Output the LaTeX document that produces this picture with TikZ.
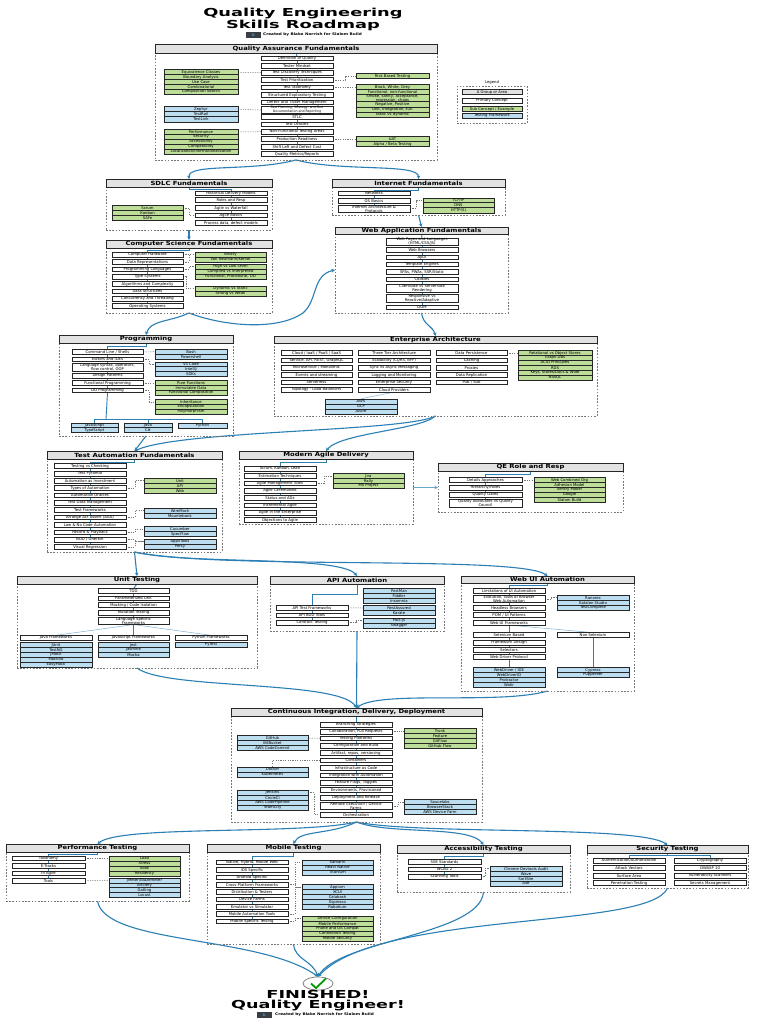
\documentclass[tikz,border=0pt]{standalone}
\usepackage{fontspec}
\setmainfont{DejaVu Sans}
\usetikzlibrary{arrows.meta,shapes.geometric}
\pgfdeclarelayer{bg}
\pgfsetlayers{bg,main}
\definecolor{cgreen}{HTML}{BCDE99}
\definecolor{cblue}{HTML}{BDDDF1}
\definecolor{cgray}{HTML}{E2E2E2}
\definecolor{cflow}{HTML}{2A7FB5}
\definecolor{clink}{HTML}{777777}
\tikzset{
 cellbase/.style={draw=black!85,line width=.5pt,inner sep=.1pt,minimum height=4.8pt,align=center,outer sep=0pt,font=\fontsize{3.8}{4}\selectfont},
 item/.style={cellbase,fill=white},
 gitem/.style={cellbase,fill=cgreen,minimum height=5.1pt},
 bitem/.style={cellbase,fill=cblue,minimum height=5.1pt},
 hdr/.style={cellbase,fill=cgray,font=\bfseries\fontsize{5.7}{6}\selectfont},
 panelbox/.style={draw=clink,line width=.6pt,dash pattern=on 1.6pt off 1.6pt,inner sep=0pt,outer sep=0pt},
 flow/.style={draw=cflow,line width=1.1pt,-{Stealth[length=3.5pt,width=3.5pt]}},
 wire/.style={draw=cflow,line width=.9pt},
 lightwire/.style={draw=cflow!60,line width=.5pt},
 link/.style={draw=clink,line width=.5pt,dash pattern=on 1.2pt off 1.2pt},
 badge/.style={fill=black!85!cyan,text=cyan!70!white,inner sep=0pt,minimum width=15pt,minimum height=6pt,font=\fontsize{4}{4}\selectfont},
 credit/.style={inner sep=0pt,anchor=west,font=\bfseries\fontsize{3.5}{4}\selectfont},
 bigtext/.style={inner sep=0pt,font=\bfseries\fontsize{11}{11}\selectfont},
 plain/.style={inner sep=0pt,font=\fontsize{3.8}{4}\selectfont},
}
\newcommand\stack[5]{\foreach \yy/\tx [count=\nn] in {#5}{\node[#1,minimum width={(#4-#3)*1pt}] (#2\nn) at ({(#3+#4)/2},\yy) {\tx};}}
% name, x1, x2, y1, y2, ybottom, title
\newcommand\panel[7]{\node[panelbox,minimum width={(#3-#2)*1pt},minimum height={(#6-#4)*1pt}] (#1) at ({(#2+#3)/2},{(#4+#6)/2}) {};
 \node[hdr,minimum width={(#3-#2)*1pt},minimum height={(#5-#4)*1pt}] (#1h) at ({(#2+#3)/2},{(#4+#5)/2}) {\scalebox{1.2}[1]{#7}};}
\newcommand\chain[2]{\foreach \a [evaluate=\a as \b using int(\a+1)] in {1,...,#2}{\draw[wire] (#1\a)--(#1\b);}}
\begin{document}
\begin{tikzpicture}[x=1pt,y=-1pt]
\useasboundingbox (0,0) rectangle (768,1024);
% title
\node[bigtext] (ttl1) at (303,14) {\scalebox{1.62}[1]{Quality Engineering}};
\node[bigtext] (ttl2) at (303,25) {\scalebox{1.62}[1]{Skills Roadmap}};
\node[badge] (bdg1) at (253.5,35) {b};
\node[credit] (crd1) at (263,35) {\scalebox{1.2}[1]{Created by Blake Norrish for Slalom Build}};

% legend
\node[plain] (lt) at (492,82) {Legend};
\node[panelbox,minimum width=70pt,minimum height=37pt] (lg) at (492,105) {};
\stack{hdr,font=\fontsize{3.8}{4}\selectfont}{la}{462}{522}{92/{A Group or Area}}
\stack{item}{lb}{462}{522}{100.7/{Primary Concept}}
\stack{gitem}{lc}{462}{522}{109/{Sub Concept / Example}}
\stack{bitem}{ld}{462}{522}{115.7/{Testing Framework}}

% QA
\panel{qa}{155}{437}{44}{53}{160}{Quality Assurance Fundamentals}
\stack{item}{q}{261}{333}{58.3/{Definition of Quality},65.7/{Tester Mindset},72.7/{Test Discovery Techniques},80/{Test Prioritization},87.3/{Test Taxonomy},95/{Structured Exploratory Testing},102.3/{Defect and Ticket Management},110/{\fontsize{3.2}{3}\selectfont Test Planning, Strategy, and Test\\\fontsize{3.2}{3}\selectfont Documentation and Reporting},117/{STLC},124.3/{Test Oracles},131.7/{Non-Functional Testing Areas},139/{Production Readiness},146.7/{Shift Left and Defect Cost},154/{Quality Metrics/Reports}}
\stack{gitem}{qg}{164}{238}{72.3/{Equivalence Classes},77/{Boundary Analysis},82/{Use Case},86.7/{Combinatorial},91.7/{Composition Search}}
\stack{bitem}{qb}{164}{238}{109.3/{Zephyr},114.3/{TestRail},119.3/{TestLink}}
\stack{gitem}{qn}{164}{238}{132/{Performance},136.7/{Security},141.7/{Accessibility},146.7/{Compatibility},151.7/{Localization/Internationalization}}
\stack{gitem}{qr}{356}{429}{76/{Risk Based Testing}}
\stack{gitem}{qt}{356}{429}{87.3/{Black, White, Grey},92.3/{Functional, non-functional},98.3/{Smoke, sanity, acceptance,\\regression, chaos},104.3/{Negative, Positive},109.7/{Unit, Integration, E2E},114.7/{static vs dynamic}}
\stack{gitem}{qu}{356}{429}{139/{UAT},144/{Alpha / Beta Testing}}

% SDLC
\panel{sd}{106}{272}{179}{187}{230}{SDLC Fundamentals}
\stack{item}{s}{195}{267}{193.3/{Historical Delivery Models},200/{Roles and Resp},208/{Agile vs Waterfall},215.3/{Agile Basics},223/{Process data, defect models}}
\stack{gitem}{sg}{112}{183}{208/{Scrum},213/{Kanban},217.7/{SAFe}}

% Internet
\panel{in}{332}{505}{179}{187}{215}{Internet Fundamentals}
\stack{item}{n}{338}{410}{193.3/{Networks},200.7/{OS Basics},208.7/{Internet Architecture \&\\Protocols}}
\stack{gitem}{ng}{423}{494}{200.7/{TCP/IP},205.3/{DNS},210.3/{HTTP(S)}}

% CS
\panel{cs}{106}{272}{240}{248}{313}{Computer Science Fundamentals}
\stack{item}{c}{112}{183}{254.7/{Computer Hardware},262/{Data Representations},269.3/{Programming Languages},276.7/{Type Systems},284/{Algorithms and Complexity},291.3/{Data Structures},298.7/{Concurrency and Threading},306/{Operating Systems}}
\stack{gitem}{ca}{195}{266}{254.7/{Binary},259.3/{Von Neumann/Kernel}}
\stack{gitem}{cb}{195}{266}{266.7/{High vs Low Level},271.7/{Compiled vs Interpreted},276.7/{Functional, Procedural, OO}}
\stack{gitem}{cd}{195}{266}{288.7/{Dynamic vs Static},293.3/{Strong vs Weak}}

% Web app
\panel{wa}{335}{508}{227}{234}{313}{Web Application Fundamentals}
\stack{item}{a}{386}{458}{241.7/{Web Pages and Languages\\(HTML/CSS/JS)},250/{Web Browsers},257.3/{AJAX},264.3/{Template Engines},272/{SPAs, PWAs, SSR/Static},279.3/{Cookies},288.3/{Clientside vs Serverside\\Rendering},298.3/{Responsive vs\\Reactive/Adaptive},307.3/{DOM}}

% Programming
\panel{pr}{59}{233}{335}{343}{436}{Programming}
\stack{item}{p}{72}{143}{352/{Command Line / Shells},359.3/{Editors and IDEs},367.3/{Language syntax, operators,\\flow control, OOP},375.7/{Design Patterns},383/{Functional Programming},390.3/{OO Programming}}
\stack{bitem}{pa}{155}{227}{351.7/{Bash},356.7/{Powershell}}
\stack{bitem}{pb}{155}{227}{364.3/{VS Code},369/{IntelliJ},373.7/{SDKs}}
\stack{gitem}{pc}{155}{227}{383/{Pure Functions},387.7/{Immutable Data},392.7/{Functional Composition}}
\stack{gitem}{pd}{155}{227}{402/{Inheritance},406.7/{Encapsulation},411.7/{Polymorphism}}
\stack{bitem}{pj}{71}{118}{425.3/{JavaScript},430/{TypeScript}}
\stack{bitem}{pk}{124}{172}{425.3/{Java},430/{C\#}}
\stack{bitem}{pl}{178}{227}{425.7/{Python}}

% Enterprise
\panel{en}{274}{597}{336}{343}{416}{Enterprise Architecture}
\stack{item}{ex}{281}{352}{353/{Cloud / IaaS / PaaS / SaaS},360.3/{Service, API, REST, GraphQL},367.7/{Microservice / Monolithic},375/{Events and streaming},382.3/{Serverless},389.7/{Topology - Load Balancers}}
\stack{item}{ey}{358}{430}{353/{Three Tier Architecture},360.3/{Scalability (CQRS, BFF)},367.7/{Sync vs Async Messaging},375/{Logging and Monitoring},382.3/{Enterprise Security},389.7/{Cloud Providers}}
\stack{item}{ez}{436}{507}{353/{Data Persistence},360.3/{Caching},367.7/{Proxies},375/{Data Replication},382.3/{Pub / Sub}}
\stack{gitem}{eg}{518}{592}{353/{Relational vs Object Stores},357.7/{Graph DBs},362.7/{ACID Principles},367.7/{RDS},372.7/{Keys, Stores/Docs \& Wide},377.7/{NoSQL}}
\stack{bitem}{eb}{325}{397}{401.3/{AWS},406.3/{GCP},411.3/{Azure}}

% Test automation
\panel{ta}{47}{222}{451}{459}{552}{Test Automation Fundamentals}
\stack{item}{t}{54}{126}{466/{Testing vs Checking},473.7/{Test Pyramid},480.7/{Automation as Investment},488/{Types of Automation},495.3/{Automation Oracles},502.7/{Test Data Management},510/{Test Frameworks},517.3/{Arrange Act Assert (AAA)},525/{Low \& No Code Automation},532.3/{Record \& Playback},539.7/{BDD / Gherkin},547/{Visual Regression}}
\stack{gitem}{tg}{144}{216}{480.7/{Unit},485.7/{API},490.7/{Web}}
\stack{bitem}{tb}{144}{216}{510.7/{WireMock},515.7/{Mountebank}}
\stack{bitem}{tc}{144}{216}{529/{Cucumber},534/{SpecFlow}}
\stack{bitem}{td}{144}{216}{541.7/{AppliTools},546.7/{Percy}}

% Agile
\panel{ag}{239}{413}{451}{459}{524}{Modern Agile Delivery}
\stack{item}{m}{244}{316}{468.7/{Scrum, Kanban, Lean},476/{Estimation Techniques},483.3/{Agile Management Tools},490.7/{Agile Ceremonies},498/{Status and ADs},505.3/{Incremental Agile},512.7/{Agile in the Enterprise},520/{Objections to Agile}}
\stack{gitem}{mg}{333}{404}{476/{Jira},481/{Rally},485.7/{MS Project}}

% QE
\panel{qe}{438}{623}{463}{471}{512}{QE Role and Resp}
\stack{item}{r}{449}{522}{480/{Details Approaches},487.7/{Hierarchy/Roles},494.7/{Quality Gates},503.3/{Quality Advocates vs Quality\\Council}}
\stack{gitem}{rg}{534}{605}{480/{Web Combined Org},485/{Adhesion Model},489.7/{Sentry Model},494.7/{Google},499.7/{Slalom Build}}

% Unit
\panel{un}{17}{257}{576}{584}{668}{Unit Testing}
\stack{item}{u}{98}{169}{591/{TDD},598.3/{Parameterized Unit},605/{Mocking / Code Isolation},612.7/{Mutation Testing},621/{Language Specific\\Frameworks}}
\stack{item}{uf}{20}{92}{637.7/{Java Frameworks}}
\stack{item}{ug}{98}{169}{637.7/{JavaScript Frameworks}}
\stack{item}{uh}{175}{247}{637.7/{Python Frameworks}}
\stack{bitem}{uj}{20}{92}{645/{JUnit},649.7/{TestNG},654.7/{JMock},659.3/{Mockito},664.3/{EasyMock}}
\stack{bitem}{uk}{98}{169}{645/{Jest},649.7/{Jasmine},654.7/{Mocha}}
\stack{bitem}{ul}{175}{247}{645/{PyTest}}

% API
\panel{ap}{270}{444}{576}{584}{631}{API Automation}
\stack{item}{i}{276}{348}{607.7/{API Test Frameworks},615.3/{API BDD Tools},622.7/{Contract Testing}}
\stack{bitem}{ia}{363}{435}{590.7/{PostMan},595.7/{Fiddler},600.7/{Insomnia}}
\stack{bitem}{ib}{363}{435}{608/{RestAssured},613/{Karate}}
\stack{bitem}{ic}{363}{435}{620.7/{Pact.js},625.7/{Swagger}}

% Web UI
\panel{wu}{461}{634}{576}{583}{691}{Web UI Automation}
\stack{item}{w}{473}{545}{590.7/{Limitations of UI Automation},599/{Evolution, Tools of Browser\\Web Automation},607.7/{Headless Browsers},615/{POM / UI Patterns},622.7/{Web UI Frameworks},635/{Selenium Based},642.7/{Framework Design},650/{Selectors},657/{Web Driver Protocol}}
\stack{bitem}{wa}{557}{629}{597.7/{Ranorex},602.7/{Katalon Studio},607.7/{TestComplete}}
\stack{item}{wn}{557}{629}{635/{Non-Selenium}}
\stack{bitem}{wb}{557}{629}{670/{Cypress},675/{Puppeteer}}
\stack{bitem}{wc}{473}{545}{670/{WebDriver / IDE},675/{WebDriverIO},680/{Protractor},685/{Watir}}

% CI/CD
\panel{ci}{231}{482}{708}{716}{822}{Continuous Integration, Delivery, Deployment}
\stack{item}{d}{320}{392}{724.5/{Branching Strategies},731.7/{Collaboration, Pull Requests},738.3/{Testing Platforms},745.7/{Configuration and Build},753/{Artifact, repos, versioning},760.3/{Containers},768/{Infrastructure as Code},775.3/{Integration with Automation},782.7/{Feature Flags, Toggles},790/{Environments, Provisioned},797.7/{Deployment and Release},806/{Remote Execution / Device\\Farms},814.7/{Orchestration}}
\stack{bitem}{da}{237}{308}{738/{GitHub},743/{BitBucket},748/{AWS CodeCommit}}
\stack{bitem}{db}{237}{308}{769.3/{Docker},774.3/{Kubernetes}}
\stack{bitem}{dc}{237}{308}{792.7/{Jenkins},797.7/{CircleCI},802.7/{AWS CodePipeline},807.7/{TeamCity}}
\stack{gitem}{dd}{404}{476}{731/{Trunk},736/{Feature},741/{GitFlow},746/{GitHub Flow}}
\stack{bitem}{de}{404}{476}{802/{Saucelabs},807/{BrowserStack},812/{AWS Device Farm}}

% Performance
\panel{pe}{6}{189}{844}{852}{901}{Performance Testing}
\stack{item}{f}{12}{85}{858.3/{Taxonomy},865.7/{E-Tracks},873.3/{In Agile},880.7/{Tools}}
\stack{gitem}{fg}{109}{180}{858.3/{Load},863.3/{Stress},868.3/{Soak},873.3/{Resiliency}}
\stack{bitem}{fb}{109}{180}{880.3/{JMeter/Blazemeter},885.3/{Artillery},890/{Gatling},895/{Locust}}

% Mobile
\panel{mo}{207}{380}{844}{852}{944}{Mobile Testing}
\stack{item}{o}{216}{288}{862.3/{Native, Hybrid, Mobile Web},870/{iOS Specific},877.3/{Android Specific},884.7/{Cross-Platform Frameworks},892/{Distribution \& Testers},899.3/{Device Farms},906.7/{Emulator vs Simulator},914/{Mobile Automation Tools},921.3/{Mobile Specific Testing}}
\stack{bitem}{oa}{302}{373}{862.3/{Xamarin},867.3/{React Native},872.3/{Titanium}}
\stack{bitem}{ob}{302}{373}{887/{Appium},892/{XCUI},897/{Calabash},902/{Espresso},906.7/{Robotium}}
\stack{gitem}{oc}{302}{373}{918.7/{Device Configuration},923.7/{Mobile Performance},928.7/{Phone and OS Compat},933.7/{Connection Testing},938.3/{Mobile Security}}

% Accessibility
\panel{ac}{397}{570}{845}{853}{892}{Accessibility Testing}
\stack{item}{h}{408}{481}{862/{508 Standards},869.3/{WCAG 2},876.7/{Scanning Tools}}
\stack{bitem}{hb}{490}{562}{868.7/{Chrome Devtools Audit},873.7/{Wave},878.7/{SortSite},883.3/{Axe}}

% Security
\panel{se}{587}{748}{845}{853}{888}{Security Testing}
\stack{item}{k}{593}{665}{860.7/{Authentication/Authorization},868/{Attack Vectors},875.7/{Surface Area},883/{Penetration Testing}}
\stack{item}{l}{674}{746}{860.7/{Cryptography},868/{OWASP 10},875.7/{Vulnerability Scanners},883/{Secrets Management}}

% finish
\node[draw=clink,fill=white,line width=.7pt,ellipse,minimum width=30pt,minimum height=13pt,inner sep=0pt] (fin) at (318,983.5) {};
\draw[draw=green!60!black,line width=1.8pt] (311,983.5) -- (316,988) -- (326,978.5);
\node[bigtext] (fnt1) at (318,994.5) {\scalebox{1.62}[1]{FINISHED!}};
\node[bigtext] (fnt2) at (318,1005) {\scalebox{1.6}[1]{Quality Engineer!}};
\node[badge] (bdg2) at (264.5,1015) {b};
\node[credit] (crd2) at (275,1015) {\scalebox{1.2}[1]{Created by Blake Norrish for Slalom Build}};

\begin{pgfonlayer}{bg}
\fill[white] (0,0) rectangle (768,1024);
% vertical chains
\chain{q}{13}
\draw[wire] (qah.south) -- (q1.north);
\draw[wire] (sdh.south) -- ++(0,2.5) -| (s1.north); \chain{s}{4}
\draw[wire] (inh.south) -- ++(0,3) -| (n1.north); \chain{n}{2}
\draw[wire] (csh.south) -- ++(0,2) -| (c1.north); \chain{c}{7}
\draw[wire] (wah.south) -- (a1.north); \chain{a}{8}
\draw[wire] (prh.south) -- ++(0,3) -| (p1.north); \chain{p}{5}
\coordinate (pfan) at (106,419);
\draw[wire] (p6.south) -- (pfan);
\draw[wire] (pfan) -| (pj1.north);
\draw[wire] (pfan) -| (pk1.north);
\draw[wire] (pfan) -| (pl1.north);
\draw[wire] (tah.south) -- ++(0,3) -| (t1.north); \chain{t}{11}
\draw[wire] (agh.south) -- ++(0,3) -| (m1.north); \chain{m}{7}
\draw[wire] (qeh.south) -- ++(0,3) -| (r1.north); \chain{r}{3}
\draw[wire] (unh.south) -- (u1.north); \chain{u}{4}
\draw[lightwire] (u5.south) -- (uf1.north);
\draw[wire] (u5.south) -- (ug1.north);
\draw[lightwire] (u5.south) -- (uh1.north);
\draw[wire] (aph.south) -- ++(0,10) -| (i1.north); \chain{i}{2}
\draw[wire] (wuh.south) -- ++(0,2) -| (w1.north); \chain{w}{8}
\draw[lightwire] (w5.south) -- (wn1.north);
\draw[wire] (wn1.south) -- (wb1.north);
\draw[wire] (w9.south) -- (wc1.north);
\draw[wire] (cih.south) -- ++(0,2) -| (d1.north); \chain{d}{12}
\draw[wire] (peh.south) -- ++(0,2) -| (f1.north); \chain{f}{3}
\draw[wire] (moh.south) -- ++(0,4) -| (o1.north); \chain{o}{8}
\draw[wire] (ach.south) -- ++(0,3) -| (h1.north); \chain{h}{2}
\draw[wire] (seh.south) -- ++(0,2) -| (k1.north);
\draw[wire] (seh.south) -- ++(0,2) -| (l1.north);
\draw[lightwire] (ey6.south) -- (eb1.north);

% dashed links
\draw[link] (qg1.east) -- (q3.west);
\draw[link] (qb1.east) -- (q8.west);
\draw[link] (qn1.east) -- (q11.west);
\draw[link] (q4.east) -- ++(12,0) |- (qr1.west);
\draw[link] (q5.east) -- (qt1.west);
\draw[link] (q12.east) -- (qu1.west);
\draw[link] (sg1.east) -- ++(6,0) |- (s4.west);
\draw[link] (n3.east) -- ++(6,0) |- (ng1.west);
\draw[link] (c1.east) -- (ca1.west);
\draw[link] (c2.east) -- ++(6,0) |- (ca1.west);
\draw[link] (c3.east) -- ++(6,0) |- (cb1.west);
\draw[link] (c4.east) -- ++(3,0) |- (cd1.west);
\draw[link] (p1.east) -- (pa1.west);
\draw[link] (p2.east) -- ++(6,0) |- (pb1.west);
\draw[link] (p5.east) -- (pc1.west);
\draw[link] (p6.east) -- ++(6,0) |- (pd1.west);
\draw[link] (ez1.east) -- (eg1.west);
\draw[link] (t4.east) -- ++(9,0) |- (tg1.west);
\draw[link] (t8.east) -- ++(9,0) |- (tb1.west);
\draw[link] (t10.east) -- ++(9,0) |- (tc1.west);
\draw[link] (t11.east) -- ++(9,0) |- (td1.west);
\draw[link] (t12.east) -- ++(9,0) |- (td1.west);
\draw[link] (m3.east) -- ++(8,0) |- (mg1.west);
\draw[link] (r1.east) -- (rg1.west);
\draw[link] (i1.east) -- (ib1.west);
\draw[link] (i3.east) -- ++(8,0) |- (ic1.west);
\draw[link] (w2.east) -- ++(6,0) |- (wa1.west);
\draw[link] (d3.west) -- (da1.east);
\draw[link] (d6.west) -| (db1.north);
\draw[link] (dc1.east) -- ++(6,0) |- (d13.west);
\draw[link] (d2.east) -- ++(6,0) |- (dd1.west);
\draw[link] (d12.east) -- ++(6,0) |- (de1.west);
\draw[link] (f1.east) -- (fg1.west);
\draw[link] (f4.east) -- (fb1.west);
\draw[link] (o4.east) -- ++(7,0) |- (oa1.west);
\draw[link] (o4.east) -- ++(7,0) |- (ob1.west);
\draw[link] (o8.east) -- ++(7,0) |- (ob1.west);
\draw[link] (o9.east) -- ++(7,0) |- (oc1.west);
\draw[link] (h3.east) -- ++(4,0) |- (hb1.west);

% curves between areas
\draw[flow] (qa.south) .. controls (250,172) and (188,163) .. (sd.north);
\draw[flow] (qa.south) .. controls (342,172) and (419,163) .. (in.north);
\draw[flow] (sd.south) -- (cs.north);
\draw[flow] (in.south) -- (wa.north);
\draw[flow] (cs.south) .. controls (170,322) and (150,320) .. (pr.north);
\draw[flow] (cs.south) .. controls (220,325) and (275,332) .. (303,313) .. controls (318,300) and (312,275) .. (wa.west);
\draw[flow] (wa.south) .. controls (423,325) and (433,326) .. (en.north);
\draw[flow] (en.south) .. controls (405,432) and (180,430) .. (ta.north);
\draw[flow] (en.south) .. controls (420,430) and (340,433) .. (ag.north);
\draw[flow] (pr.south) -- (ta.north);
\draw[flow,draw=cflow!70] (ag.east) -- (qe.west);
\draw[flow] (ta.south) -- (un.north);
\draw[flow] (ta.south) .. controls (190,565) and (340,555) .. (ap.north);
\draw[flow] (ta.south) .. controls (220,570) and (520,555) .. (wu.north);
\draw[flow] (un.south) .. controls (165,690) and (340,680) .. (ci.north);
\draw[flow] (ap.south) -- (ci.north);
\draw[flow] (wu.south) .. controls (500,705) and (380,690) .. (ci.north);
\draw[flow] (ci.south) .. controls (300,835) and (120,825) .. (pe.north);
\draw[flow] (ci.south) .. controls (330,835) and (300,830) .. (mo.north);
\draw[flow] (ci.south) .. controls (390,835) and (470,825) .. (ac.north);
\draw[flow] (ci.south) .. controls (420,835) and (640,825) .. (se.north);
\draw[flow] (pe.south) .. controls (105,945) and (260,935) .. (fin.north);
\draw[flow] (mo.south) .. controls (295,960) and (312,960) .. (fin.north);
\draw[flow] (ac.south) .. controls (480,935) and (340,940) .. (fin.north);
\draw[flow] (se.south) .. controls (650,930) and (380,910) .. (fin.north);
\end{pgfonlayer}
\end{tikzpicture}
\end{document}
